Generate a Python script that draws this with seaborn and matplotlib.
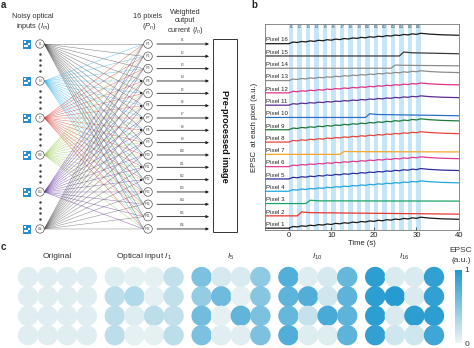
import numpy as np
import pandas as pd
import matplotlib
matplotlib.use("Agg")
import matplotlib.pyplot as plt
import seaborn as sns
from matplotlib.colors import LinearSegmentedColormap, Normalize
from matplotlib.patches import Rectangle, Circle
from matplotlib.cm import ScalarMappable

sns.set_theme(style="white")
plt.rcParams['font.family'] = ['Liberation Sans', 'DejaVu Sans']
plt.rcParams['mathtext.fontset'] = 'custom'
plt.rcParams['mathtext.rm'] = 'Liberation Sans'
plt.rcParams['mathtext.it'] = 'Liberation Sans:italic'

# ---------------- data ----------------
input_labels = ["$I_1$", "$I_4$", "$I_7$", "$I_{10}$", "$I_{13}$", "$I_{16}$"]
input_colors = ["#4a4a4a", "#3cb5e6", "#d8433b", "#9ccc5c", "#6a3a9e", "#5a5a5a"]

pixel_names = [f"Pixel {i}" for i in range(1, 17)]
pixel_colors = ["#1a1a1a", "#e8352f", "#1aa566", "#22a7e0", "#2c2f9a", "#e23a92",
                "#f5a52a", "#e8453c", "#1e7a3a", "#2a6fc9", "#5a2d91", "#e0338a",
                "#8c8c8c", "#8c8c8c", "#3a3a3a", "#1a1a1a"]

pulse_starts = [0, 2, 4, 6, 8, 10, 12, 14, 16, 18, 20, 22, 24, 26, 28, 30]
pulse_names = [f"$I_{{{i}}}$" for i in range(1, 17)]

# normalised EPSC of a pixel that sees every pulse
full_t = [-6, 0, 1, 2, 3, 4, 5, 6, 7, 8, 9, 10, 11, 12, 13, 14, 15, 16, 17, 18, 19,
          20, 21, 22, 23, 24, 25, 26, 27, 28, 29, 30, 31, 33, 36, 40]
full_v = [0.00, 0.00, 0.14, 0.10, 0.19, 0.15, 0.24, 0.20, 0.29, 0.25, 0.34, 0.30,
          0.39, 0.35, 0.44, 0.40, 0.49, 0.45, 0.54, 0.50, 0.59, 0.55, 0.64, 0.60,
          0.69, 0.65, 0.74, 0.70, 0.79, 0.75, 0.84, 0.80, 0.89, 0.82, 0.76, 0.72]
full_pixels = [1, 4, 5, 6, 8, 9, 11, 12, 13, 16]
full_gain = [1.00, 0.95, 0.95, 0.90, 0.95, 1.00, 0.85, 0.90, 0.90, 0.95]

# pixels that see a single noise pulse: pulse index, peak, after-pulse, end value
noise_pixels = [2, 3, 7, 10, 14, 15]
noise_pulse = [2, 3, 7, 10, 13, 14]
noise_peak = [0.32, 0.27, 0.24, 0.30, 0.26, 0.32]
noise_mid = [0.26, 0.22, 0.22, 0.24, 0.24, 0.26]
noise_end = [0.14, 0.20, 0.20, 0.14, 0.20, 0.18]

# panel c: EPSC maps (4x4) for each stage
map_titles = ["Original", "Optical input $I_1$", "$I_5$", "$I_{10}$", "$I_{16}$"]
map_original = [[0.07, 0.07, 0.07, 0.07], [0.07, 0.07, 0.07, 0.07],
                [0.07, 0.07, 0.07, 0.07], [0.07, 0.07, 0.07, 0.07]]
map_i1 = [[0.08, 0.05, 0.05, 0.22], [0.24, 0.30, 0.05, 0.22],
          [0.24, 0.08, 0.24, 0.22], [0.24, 0.05, 0.05, 0.24]]
map_i5 = [[0.55, 0.12, 0.10, 0.46], [0.44, 0.62, 0.05, 0.50],
          [0.60, 0.05, 0.68, 0.55], [0.55, 0.07, 0.07, 0.55]]
map_i10 = [[0.75, 0.08, 0.12, 0.66], [0.70, 0.76, 0.15, 0.70],
           [0.66, 0.20, 0.80, 0.70], [0.76, 0.08, 0.08, 0.70]]
map_i16 = [[0.93, 0.10, 0.10, 0.91], [0.93, 0.97, 0.10, 0.91],
           [0.93, 0.10, 0.93, 0.93], [0.91, 0.16, 0.16, 0.84]]

# ---------------- figure ----------------
W, H = 474, 348
fig = plt.figure(figsize=(W / 100, H / 100), dpi=100)

# overlay axes in pixel units (panel a + panel letters)
ov = fig.add_axes([0, 0, 1, 1])
ov.set_xlim(0, W)
ov.set_ylim(H, 0)
ov.axis("off")

ov.text(1, 5, "a", fontsize=7, fontweight="bold", va="center")
ov.text(251, 5, "b", fontsize=7, fontweight="bold", va="center")
ov.text(1, 247, "c", fontsize=7, fontweight="bold", va="center")

ov.text(33, 17, "Noisy optical", fontsize=5.3, ha="center", va="center", color="#333")
ov.text(33, 27, "inputs ($I_m$)", fontsize=5.3, ha="center", va="center", color="#333")
ov.text(148, 17, "16 pixels", fontsize=5.3, ha="center", va="center", color="#333")
ov.text(149, 27, "($P_n$)", fontsize=5.3, ha="center", va="center", color="#333")
ov.text(185, 12, "Weighted", fontsize=5.3, ha="center", va="center", color="#333")
ov.text(185, 21, "output", fontsize=5.3, ha="center", va="center", color="#333")
ov.text(185, 31, "current ($I_n$)", fontsize=5.3, ha="center", va="center", color="#333")

in_x, px_x = 40, 148
in_y = [44 + 37 * k for k in range(len(input_labels))]
px_y = [44 + 12.33 * j for j in range(16)]

for k, (yi, col) in enumerate(zip(in_y, input_colors)):
    for yp in px_y:
        ov.plot([in_x + 4.3, px_x - 4.5], [yi, yp], color=col, lw=0.4, alpha=0.65, zorder=1)
for k, yi in enumerate(in_y):
    ov.add_patch(Circle((in_x, yi), 4.2, fc="white", ec="#555", lw=0.5, zorder=3))
    ov.text(in_x, yi, input_labels[k], fontsize=2.8, ha="center", va="center", zorder=4, color="#333")
    ov.add_patch(Rectangle((23, yi - 4.5), 8, 9, fc="#2a8fd0", ec="none", zorder=3))
    for (dx, dy) in [(1.5, 1.5), (1.5, 5), (5, 3.2), (3.2, 5.5)]:
        ov.add_patch(Rectangle((23 + dx, yi - 4.5 + dy), 1.6, 2, fc="white", ec="none", zorder=4))
    if k < len(in_y) - 1:
        for d in range(4):
            ov.plot(in_x, yi + 10 + d * 5.7, marker="o", ms=0.8, color="#444", zorder=3)

for j, yp in enumerate(px_y):
    ov.add_patch(Circle((px_x, yp), 4.3, fc="white", ec="#555", lw=0.5, zorder=3))
    ov.text(px_x, yp, f"$P_{{{j + 1}}}$", fontsize=2.6, ha="center", va="center", zorder=4, color="#333")
    if 3 <= j <= 12:
        ov.add_patch(Rectangle((px_x - 7.5, yp - 1), 2, 2, fc="#333", ec="none", zorder=2))
    ov.annotate("", xy=(209, yp), xytext=(157, yp),
                arrowprops=dict(arrowstyle="-|>", lw=0.6, color="#222", mutation_scale=4,
                                shrinkA=0, shrinkB=0))
    ov.text(182, yp - 3.6, f"$I_{{{j + 1}}}$", fontsize=3, ha="center", va="center", color="#333")

ov.add_patch(Rectangle((213, 39), 24, 193, fill=False, ec="#333", lw=0.7))
ov.text(225, 136, "Pre-processed image", rotation=270, fontsize=6.6, fontweight="bold",
        ha="center", va="center", color="#111")

ov.text(254, 127, "EPSC  at each pixel (a.u.)", rotation=90, fontsize=5.6,
        ha="center", va="center", color="#222")

# ---------------- panel b ----------------
axb = fig.add_axes([265 / W, 1 - 230 / H, (459 - 265) / W, (230 - 24) / H])
rows = []
for n, g in zip(full_pixels, full_gain):
    for t, v in zip(full_t, full_v):
        rows.append((pixel_names[n - 1], t, (n - 1) + g * v))
for n, p, pk, md, en in zip(noise_pixels, noise_pulse, noise_peak, noise_mid, noise_end):
    s = pulse_starts[p - 1]
    for t, v in zip([-6, s, s + 1, s + 3, 40], [0, 0, pk, md, en]):
        rows.append((pixel_names[n - 1], t, (n - 1) + v))
df = pd.DataFrame(rows, columns=["pixel", "time", "epsc"])

for s in pulse_starts:
    axb.axvspan(s, s + 1, color="#c6e6f7", lw=0, zorder=0)
sns.lineplot(data=df, x="time", y="epsc", hue="pixel", hue_order=pixel_names,
             palette=dict(zip(pixel_names, pixel_colors)), estimator=None, sort=False,
             lw=0.9, legend=False, ax=axb, zorder=2)
for s, nm in zip(pulse_starts, pulse_names):
    axb.text(s + 0.5, 16.3, nm, fontsize=3.2, ha="center", va="center", color="#333")
for n, nm in enumerate(pixel_names):
    axb.text(-5.3, n + 0.3, nm, fontsize=4.4, ha="left", va="center", color="#222", zorder=3)

axb.set_xlim(-5.6, 40)
axb.set_ylim(-0.15, 16.6)
axb.set_xticks([0, 10, 20, 30, 40])
axb.set_yticks([])
axb.tick_params(axis="x", labelsize=5.5, length=2, width=0.5, pad=1.5, direction="in",
                colors="#222", bottom=True)
axb.set_xlabel("Time (s)", fontsize=5.5, labelpad=0.5, color="#222")
axb.set_ylabel("")
for sp in axb.spines.values():
    sp.set_color("#777")
    sp.set_linewidth(0.6)

# ---------------- panel c ----------------
cmap = LinearSegmentedColormap.from_list("epsc", ["#eef4f3", "#1f98d0"])
axc = fig.add_axes([0, 0, 1, 1 - 262 / H])
axc.set_xlim(0, W)
axc.set_ylim(H, 262)
axc.axis("off")
maps = [map_original, map_i1, map_i5, map_i10, map_i16]
crow = []
for g, m in enumerate(maps):
    for r in range(4):
        for c in range(4):
            crow.append((28 + g * 86.8 + c * 19.6, 277 + r * 19.4, m[r][c]))
dfc = pd.DataFrame(crow, columns=["x", "y", "epsc"])
sns.scatterplot(data=dfc, x="x", y="y", hue="epsc", palette=cmap, hue_norm=(0, 1),
                s=215, linewidth=0, legend=False, ax=axc)
for g, tt in enumerate(map_titles):
    ov.text(57.4 + g * 86.8, 257, tt, fontsize=6, ha="center", va="center", color="#333")

cax = fig.add_axes([455 / W, 1 - 343 / H, 7 / W, 73 / H])
cb = fig.colorbar(ScalarMappable(norm=Normalize(0, 1), cmap=cmap), cax=cax, ticks=[0, 1])
cb.outline.set_visible(False)
cax.tick_params(labelsize=6, length=0, pad=2, colors="#333")
ov.text(461, 250, "EPSC", fontsize=6, ha="center", va="center", color="#333")
ov.text(461, 260, "(a.u.)", fontsize=6, ha="center", va="center", color="#333")

fig.savefig("out.png", dpi=100)
